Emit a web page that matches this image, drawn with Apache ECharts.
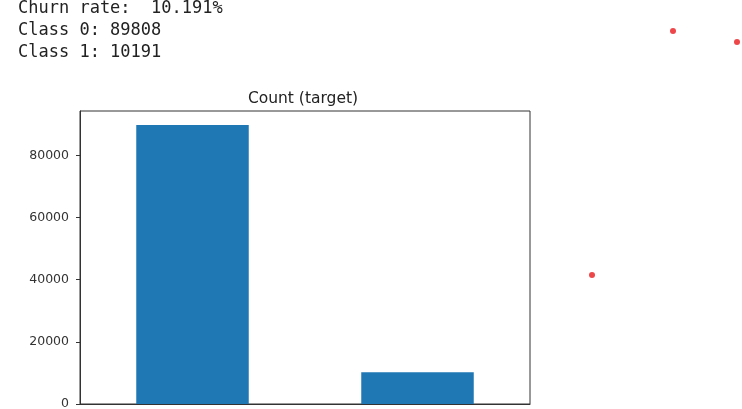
<!DOCTYPE html>
<html>
<head>
<meta charset="utf-8">
<script src="https://cdn.jsdelivr.net/npm/echarts@6/dist/echarts.min.js"></script>
<style>
  html, body { margin: 0; padding: 0; background: #fff; }
  #chart { width: 742px; height: 409px; }
</style>
</head>
<body>
<div id="chart"></div>
<script>
// printed output above the plot
var printLines = ['Churn rate:  10.191%', 'Class 0: 89808', 'Class 1: 10191'];

// bar chart data
var categories = ['0', '1'];
var counts = [89808, 10191];
var yTicks = [0, 20000, 40000, 60000, 80000];
var yMax = 94298; // matplotlib autoscale: 5% above the tallest bar

// red marker dots lying on the page (pixel space of the page)
var dots = [[673, 31], [737, 42], [592, 275]];

var chart = echarts.init(document.getElementById('chart'));
chart.setOption({
  animation: false,
  backgroundColor: '#fff',
  title: [{
    text: printLines.join('\n'),
    left: 13,
    top: -7,
    textStyle: {
      fontFamily: 'DejaVu Sans Mono',
      fontSize: 17,
      fontWeight: 'normal',
      color: '#222',
      lineHeight: 22
    }
  }, {
    text: 'Count (target)',
    left: 298,
    top: 86,
    textAlign: 'center',
    textStyle: {
      fontFamily: 'DejaVu Sans',
      fontSize: 15.5,
      fontWeight: 'normal',
      color: '#222'
    }
  }],
  grid: [{
    left: 80, right: 212, top: 111, bottom: 5,
    outerBoundsMode: 'none',
    containLabel: false,
    show: true, borderColor: '#333', borderWidth: 1
  }, {
    left: 0, right: 0, top: 0, bottom: 0,
    outerBoundsMode: 'none'
  }],
  xAxis: [{
    type: 'category',
    gridIndex: 0,
    data: categories,
    axisLine: { lineStyle: { color: '#333' } },
    axisTick: { alignWithLabel: true, length: 4, lineStyle: { color: '#333' } },
    axisLabel: { color: '#333', fontSize: 12.5, fontFamily: 'DejaVu Sans' }
  }, {
    type: 'value', gridIndex: 1, min: 0, max: 742, show: false
  }],
  yAxis: [{
    type: 'value',
    gridIndex: 0,
    min: 0,
    max: yMax,
    splitLine: { show: false },
    axisLine: { show: true, lineStyle: { color: '#333' } },
    axisTick: { show: true, length: 4, customValues: yTicks, lineStyle: { color: '#333' } },
    axisLabel: {
      customValues: yTicks,
      formatter: function (v) { return String(v); },
      color: '#333',
      fontSize: 12.5,
      fontFamily: 'DejaVu Sans',
      margin: 11
    }
  }, {
    type: 'value', gridIndex: 1, min: 0, max: 409, inverse: true, show: false
  }],
  series: [{
    type: 'bar',
    xAxisIndex: 0,
    yAxisIndex: 0,
    data: counts,
    barWidth: '50%',
    itemStyle: { color: '#1f77b4' }
  }, {
    type: 'scatter',
    xAxisIndex: 1,
    yAxisIndex: 1,
    data: dots,
    symbolSize: 6,
    itemStyle: { color: '#e8191c' },
    silent: true
  }]
});
</script>
</body>
</html>
